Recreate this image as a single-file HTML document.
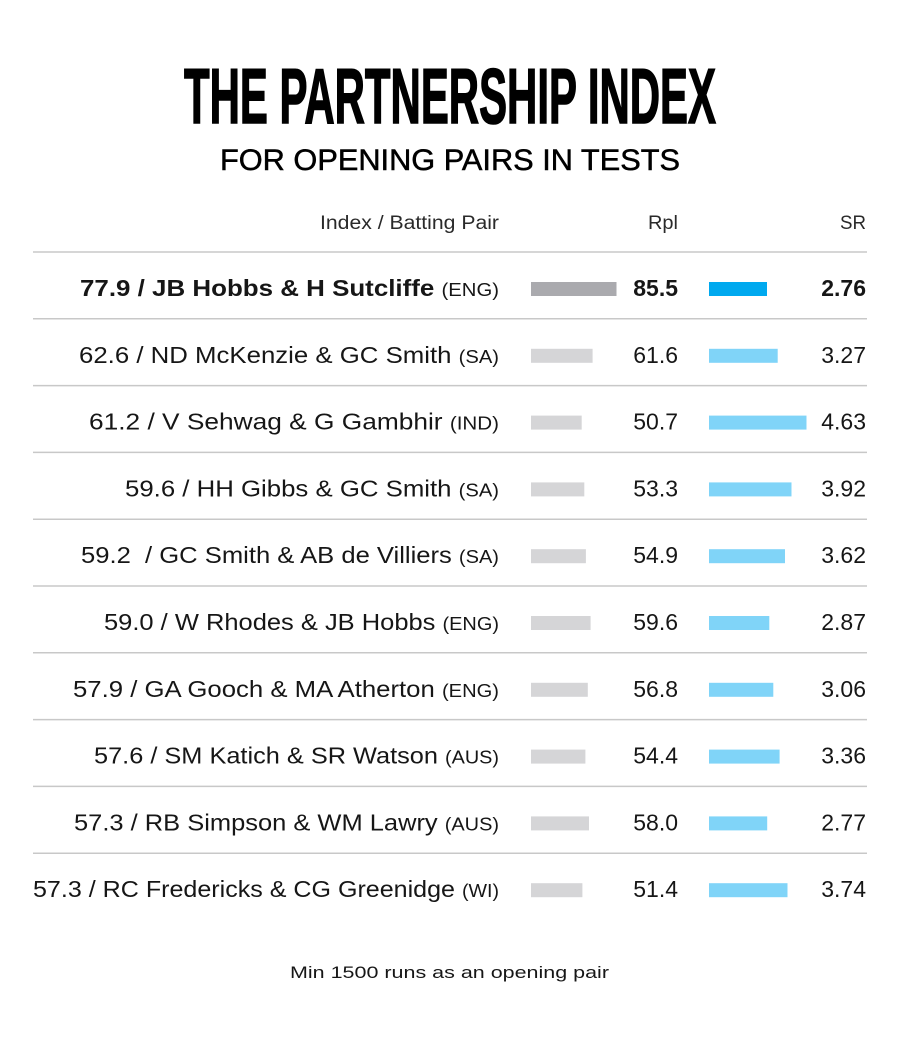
<!DOCTYPE html>
<html><head><meta charset="utf-8"><style>
html,body{margin:0;padding:0;background:#fff;}
svg{display:block;}
text{font-family:"Liberation Sans",sans-serif;fill:#161616;}
.nm{font-size:23px;}
.cc{font-size:18px;}
.num{font-size:23px;text-anchor:end;}
.hd{font-size:19px;fill:#2a2a2a;}
</style></head><body>
<svg width="900" height="1047" viewBox="0 0 900 1047" xmlns="http://www.w3.org/2000/svg">
<rect width="900" height="1047" fill="#fff"/>
<text x="184" y="123" font-size="78" font-weight="bold" textLength="532" lengthAdjust="spacingAndGlyphs" style="fill:#000;stroke:#000;stroke-width:1.6;stroke-linejoin:miter">THE PARTNERSHIP INDEX</text>
<text x="220" y="170" font-size="30" textLength="460" lengthAdjust="spacingAndGlyphs" style="fill:#000;stroke:#000;stroke-width:0.5">FOR OPENING PAIRS IN TESTS</text>

<text class="hd" x="320" y="229" textLength="179" lengthAdjust="spacingAndGlyphs">Index / Batting Pair</text>
<text class="hd" x="648" y="229" textLength="30" lengthAdjust="spacingAndGlyphs">Rpl</text>
<text class="hd" x="840" y="229" textLength="26" lengthAdjust="spacingAndGlyphs">SR</text>

<g stroke="#c8c8c8" stroke-width="1.5">
<line x1="33" x2="867" y1="252" y2="252"/>
<line x1="33" x2="867" y1="318.8" y2="318.8"/>
<line x1="33" x2="867" y1="385.6" y2="385.6"/>
<line x1="33" x2="867" y1="452.4" y2="452.4"/>
<line x1="33" x2="867" y1="519.2" y2="519.2"/>
<line x1="33" x2="867" y1="586" y2="586"/>
<line x1="33" x2="867" y1="652.8" y2="652.8"/>
<line x1="33" x2="867" y1="719.6" y2="719.6"/>
<line x1="33" x2="867" y1="786.4" y2="786.4"/>
<line x1="33" x2="867" y1="853.2" y2="853.2"/>
</g>

<!-- Row 1 -->
<text x="80" y="296" textLength="419" lengthAdjust="spacingAndGlyphs"><tspan class="nm" font-weight="bold">77.9 / JB Hobbs &amp; H Sutcliffe </tspan><tspan class="cc">(ENG)</tspan></text>
<rect x="531" y="282" width="85.5" height="14" fill="#aaaaae"/>
<text class="num" x="678" y="296" font-weight="bold">85.5</text>
<rect x="709" y="282" width="58" height="14" fill="#00a9ef"/>
<text class="num" x="866" y="296" font-weight="bold">2.76</text>

<!-- Row 2 -->
<text x="79" y="362.8" textLength="420" lengthAdjust="spacingAndGlyphs"><tspan class="nm">62.6 / ND McKenzie &amp; GC Smith </tspan><tspan class="cc">(SA)</tspan></text>
<rect x="531" y="348.8" width="61.6" height="14" fill="#d5d5d7"/>
<text class="num" x="678" y="362.8">61.6</text>
<rect x="709" y="348.8" width="68.7" height="14" fill="#80d4f8"/>
<text class="num" x="866" y="362.8">3.27</text>

<!-- Row 3 -->
<text x="89" y="429.6" textLength="410" lengthAdjust="spacingAndGlyphs"><tspan class="nm">61.2 / V Sehwag &amp; G Gambhir </tspan><tspan class="cc">(IND)</tspan></text>
<rect x="531" y="415.6" width="50.7" height="14" fill="#d5d5d7"/>
<text class="num" x="678" y="429.6">50.7</text>
<rect x="709" y="415.6" width="97.5" height="14" fill="#80d4f8"/>
<text class="num" x="866" y="429.6">4.63</text>

<!-- Row 4 -->
<text x="125" y="496.4" textLength="374" lengthAdjust="spacingAndGlyphs"><tspan class="nm">59.6 / HH Gibbs &amp; GC Smith </tspan><tspan class="cc">(SA)</tspan></text>
<rect x="531" y="482.4" width="53.3" height="14" fill="#d5d5d7"/>
<text class="num" x="678" y="496.4">53.3</text>
<rect x="709" y="482.4" width="82.5" height="14" fill="#80d4f8"/>
<text class="num" x="866" y="496.4">3.92</text>

<!-- Row 5 -->
<text x="81" y="563.2" textLength="418" lengthAdjust="spacingAndGlyphs" xml:space="preserve"><tspan class="nm">59.2  / GC Smith &amp; AB de Villiers </tspan><tspan class="cc">(SA)</tspan></text>
<rect x="531" y="549.2" width="54.9" height="14" fill="#d5d5d7"/>
<text class="num" x="678" y="563.2">54.9</text>
<rect x="709" y="549.2" width="76" height="14" fill="#80d4f8"/>
<text class="num" x="866" y="563.2">3.62</text>

<!-- Row 6 -->
<text x="104" y="630" textLength="395" lengthAdjust="spacingAndGlyphs"><tspan class="nm">59.0 / W Rhodes &amp; JB Hobbs </tspan><tspan class="cc">(ENG)</tspan></text>
<rect x="531" y="616" width="59.6" height="14" fill="#d5d5d7"/>
<text class="num" x="678" y="630">59.6</text>
<rect x="709" y="616" width="60.3" height="14" fill="#80d4f8"/>
<text class="num" x="866" y="630">2.87</text>

<!-- Row 7 -->
<text x="73" y="696.8" textLength="426" lengthAdjust="spacingAndGlyphs"><tspan class="nm">57.9 / GA Gooch &amp; MA Atherton </tspan><tspan class="cc">(ENG)</tspan></text>
<rect x="531" y="682.8" width="56.8" height="14" fill="#d5d5d7"/>
<text class="num" x="678" y="696.8">56.8</text>
<rect x="709" y="682.8" width="64.3" height="14" fill="#80d4f8"/>
<text class="num" x="866" y="696.8">3.06</text>

<!-- Row 8 -->
<text x="94" y="763.6" textLength="405" lengthAdjust="spacingAndGlyphs"><tspan class="nm">57.6 / SM Katich &amp; SR Watson </tspan><tspan class="cc">(AUS)</tspan></text>
<rect x="531" y="749.6" width="54.4" height="14" fill="#d5d5d7"/>
<text class="num" x="678" y="763.6">54.4</text>
<rect x="709" y="749.6" width="70.6" height="14" fill="#80d4f8"/>
<text class="num" x="866" y="763.6">3.36</text>

<!-- Row 9 -->
<text x="74" y="830.4" textLength="425" lengthAdjust="spacingAndGlyphs"><tspan class="nm">57.3 / RB Simpson &amp; WM Lawry </tspan><tspan class="cc">(AUS)</tspan></text>
<rect x="531" y="816.4" width="58" height="14" fill="#d5d5d7"/>
<text class="num" x="678" y="830.4">58.0</text>
<rect x="709" y="816.4" width="58.2" height="14" fill="#80d4f8"/>
<text class="num" x="866" y="830.4">2.77</text>

<!-- Row 10 -->
<text x="33" y="897.2" textLength="466" lengthAdjust="spacingAndGlyphs"><tspan class="nm">57.3 / RC Fredericks &amp; CG Greenidge </tspan><tspan class="cc">(WI)</tspan></text>
<rect x="531" y="883.2" width="51.4" height="14" fill="#d5d5d7"/>
<text class="num" x="678" y="897.2">51.4</text>
<rect x="709" y="883.2" width="78.5" height="14" fill="#80d4f8"/>
<text class="num" x="866" y="897.2">3.74</text>

<text x="290" y="978" font-size="17" textLength="319" lengthAdjust="spacingAndGlyphs">Min 1500 runs as an opening pair</text>
</svg>
</body></html>
